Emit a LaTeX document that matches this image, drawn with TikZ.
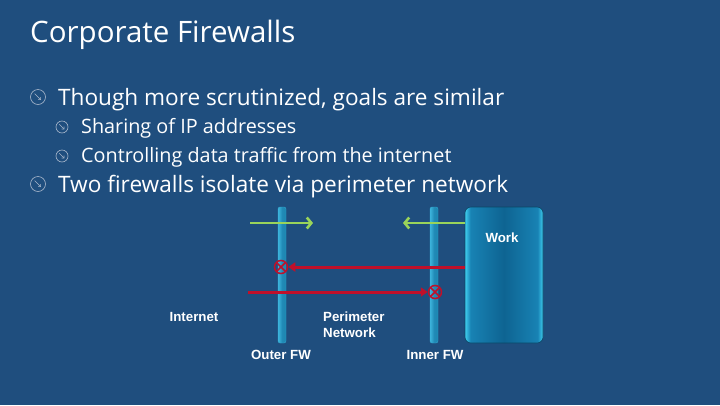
\documentclass[tikz,border=0pt]{standalone}
\usepackage{fontspec}
\setmainfont{Open Sans}
\newfontfamily\labelfont{Liberation Sans}
\usetikzlibrary{positioning,arrows.meta,calc}

\definecolor{slidebg}{HTML}{1F4E7E}
\definecolor{okgreen}{HTML}{9AD45A}
\definecolor{blockred}{HTML}{C0102A}
\definecolor{barlite}{HTML}{3DB4DC}
\definecolor{bardark}{HTML}{1C84B0}
\definecolor{worklite}{HTML}{40D0F0}
\definecolor{workmid}{HTML}{1882B4}
\definecolor{workdark}{HTML}{0E6492}
\definecolor{bulgray}{HTML}{A9B8CC}
\pgfdeclarehorizontalshading{workshade}{100bp}{color(0bp)=(worklite); color(25bp)=(worklite);
  color(28.5bp)=(workmid); color(50bp)=(workdark); color(71.5bp)=(workmid); color(75bp)=(worklite);
  color(100bp)=(worklite)}

\begin{document}
\begin{tikzpicture}[
  x=1pt, y=-1pt,
  txt/.style={anchor=base west,inner sep=0pt,text=white},
  lvlone/.style={txt,font=\fontsize{22.6}{25}\selectfont},
  lvltwo/.style={txt,font=\fontsize{19.8}{22}\selectfont},
  bul/.style={circle,draw=bulgray,line width=0.6pt,inner sep=0pt,minimum size=#1,
              path picture={\draw[bulgray,line width=0.6pt,-{Straight Barb[length=1.8pt,width=3.4pt]}]
                ($(path picture bounding box.center)+(-0.22*#1,0.22*#1)$) --
                ($(path picture bounding box.center)+(0.2*#1,-0.2*#1)$);}},
  fwbar/.style={rectangle,rounded corners=2pt,minimum width=8pt,minimum height=136pt,
                inner sep=0pt,left color=barlite,right color=bardark,middle color=bardark!85!barlite,
                draw=barlite!70!bardark,line width=0.4pt},
  workbox/.style={rectangle,rounded corners=6pt,minimum width=78pt,minimum height=136pt,
                  inner sep=0pt,shading=workshade,draw=workdark!70!black,line width=0.6pt},
  xmark/.style={circle,draw=blockred,line width=1.5pt,minimum size=13pt,inner sep=0pt,
                path picture={\draw[blockred,line width=1.5pt]
                  (path picture bounding box.north west) -- (path picture bounding box.south east)
                  (path picture bounding box.north east) -- (path picture bounding box.south west);}},
  lbl/.style={font=\labelfont\bfseries\fontsize{13.3}{15.5}\selectfont,text=white,inner sep=0pt},
  greenarr/.style={okgreen,line width=2.6pt,-{Straight Barb[length=4.5pt,width=11pt]}},
  redarr/.style={blockred,line width=3pt,-{Triangle[length=7pt,width=9pt]}},
]
\fill[slidebg] (0,0) rectangle (720,405);
\useasboundingbox (0,0) rectangle (720,405);

% title and bullets
\node[txt,font=\fontsize{29.5}{32}\selectfont] (title) at (30,42) {Corporate Firewalls};
\node[lvlone] (b1) at (58,105) {Though more scrutinized, goals are similar};
\node[lvltwo] (b1a) at (81,133) {Sharing of IP addresses};
\node[lvltwo] (b1b) at (81,162) {Controlling data traffic from the internet};
\node[lvlone] (b2) at (58,192) {Two firewalls isolate via perimeter network};
\node[bul=15pt] (i1) at (38,97) {};
\node[bul=12pt] (i1a) at (62,127) {};
\node[bul=12pt] (i1b) at (62,156) {};
\node[bul=15pt] (i2) at (38,184) {};

% firewalls and work network
\node[fwbar] (outer) at (282,275) {};
\node[fwbar] (inner) at (434,275) {};
\node[workbox] (work) at (504,275) {};
\node[lbl] (worktxt) at (502,238) {Work};

\node[xmark] (blockout) at (281,267) {};
\node[xmark] (blockin) at (435,292) {};

\coordinate (gin) at (250,223);
\coordinate (gout) at (313,223);
\coordinate (rin) at (248,292);
\coordinate (gback) at (403,223);

\draw[greenarr] (gin) -- (gout);
\draw[greenarr] (work.west |- gback) -- (gback);
\draw[redarr] (work.west |- blockout) -- (blockout);
\draw[redarr] (rin) -- (blockin);

% labels
\node[lbl] (inet) at (194,317) {Internet};
\node[lbl,anchor=north west,align=left] (perim) at (323,312) {Perimeter\\Network};
\node[lbl] (outlbl) at (281,355) {Outer FW};
\node[lbl] (inlbl) at (435,355) {Inner FW};
\end{tikzpicture}
\end{document}
